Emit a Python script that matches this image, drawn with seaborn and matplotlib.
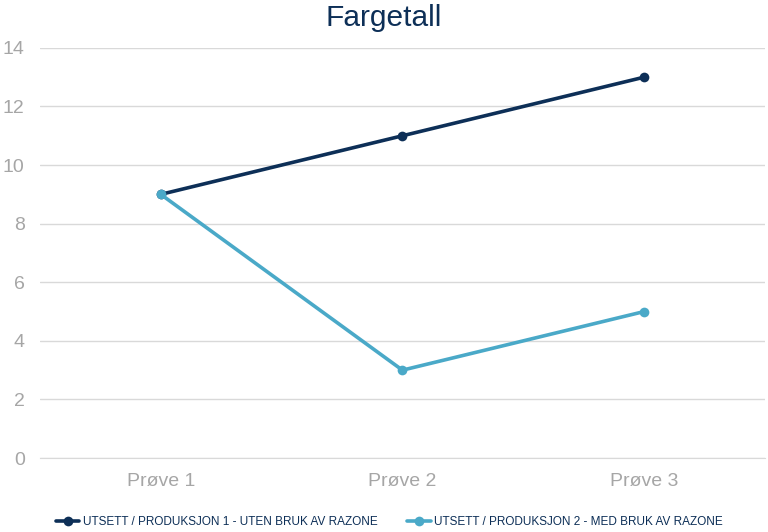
import matplotlib
matplotlib.use("Agg")
import matplotlib.pyplot as plt
import pandas as pd
import seaborn as sns

# data
samples = ["Prøve 1", "Prøve 2", "Prøve 3"]
uten_razone = [9, 11, 13]
med_razone = [9, 3, 5]
series_names = [
    "UTSETT / PRODUKSJON 1 - UTEN BRUK AV RAZONE",
    "UTSETT / PRODUKSJON 2 - MED BRUK AV RAZONE",
]
y_ticks = [0, 2, 4, 6, 8, 10, 12, 14]

df = pd.DataFrame({
    "sample": samples * 2,
    "value": uten_razone + med_razone,
    "series": [series_names[0]] * 3 + [series_names[1]] * 3,
})

sns.set_style("white")
plt.rcParams["font.family"] = ["Liberation Sans", "DejaVu Sans"]

fig = plt.figure(figsize=(7.68, 5.32), dpi=100)
ax = fig.add_axes([0.052, 0.139, 0.944, 0.771])

palette = {series_names[0]: "#0d2f57", series_names[1]: "#4aa9c8"}
sns.lineplot(data=df, x="sample", y="value", hue="series", palette=palette,
             marker="o", markersize=7, markeredgewidth=0, linewidth=2.6,
             sort=False, ax=ax)

ax.set_xlim(-0.5, 2.5)
ax.set_ylim(0, 14)
ax.set_yticks(y_ticks)
ax.grid(axis="y", color="#d9d9d9", linewidth=1)
ax.set_axisbelow(True)
for s in ["left", "right", "top"]:
    ax.spines[s].set_visible(False)
ax.spines["bottom"].set_color("#d9d9d9")
ax.tick_params(axis="both", length=0, labelsize=14, labelcolor="#a6a6a6")
ax.tick_params(axis="x", pad=11)
ax.tick_params(axis="y", pad=11)
ax.set_xlabel("")
ax.set_ylabel("")

fig.text(0.5, 0.966, "Fargetall", ha="center", va="center", fontsize=21.5, color="#0d2f57")

leg = ax.legend(loc="upper center", bbox_to_anchor=(0.482, -0.116), ncol=2, frameon=False,
                fontsize=8.5, handlelength=2.0, columnspacing=2.5, handletextpad=0.3)
for t in leg.get_texts():
    t.set_color("#0d2f57")

fig.savefig("out.png", dpi=100)
